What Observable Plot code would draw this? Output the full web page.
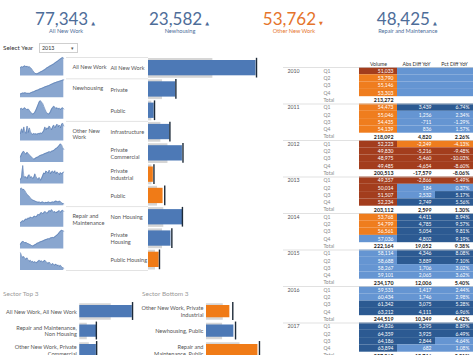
<!DOCTYPE html>
<html><head><meta charset="utf-8">
<script src="https://cdn.jsdelivr.net/npm/d3@7"></script>
<script src="https://cdn.jsdelivr.net/npm/@observablehq/plot@0.6"></script>
<style>
html,body{margin:0;padding:0;width:474px;height:355px;overflow:hidden;background:#fff;font-family:Lato,"Open Sans",sans-serif;}
.p{position:absolute;}
.clip{overflow:hidden;}
.p svg{overflow:visible;display:block;}
.ttl{position:absolute;font-size:6.5px;color:#9a9a9a;line-height:8px;white-space:nowrap;}
</style></head><body>
<div id="kpi" class="p" style="left:0;top:0;width:474px;height:40px"></div>
<div class="ttl" style="left:3px;top:43.5px;color:#333;font-size:6.3px">Select Year</div>
<div style="position:absolute;left:39px;top:43px;width:39px;height:10px;border:1px solid #cfcfcf;box-sizing:border-box;font-size:5.3px;line-height:8px;color:#333;padding-left:2px;background:#fff">2013<span style="position:absolute;right:3px;top:0;font-size:5px;color:#555">▾</span></div>
<div id="spark" class="p" style="left:0;top:55px;width:66px;height:217px"></div>
<div id="labels" class="p" style="left:66px;top:55px;width:82px;height:217px"></div>
<div id="bars" class="p" style="left:148px;top:55px;width:120px;height:217px"></div>
<div id="table" class="p clip" style="left:280px;top:55px;width:194px;height:300px"></div>
<div class="ttl" style="left:3px;top:289.5px">Sector Top 3</div>
<div class="ttl" style="left:142px;top:289.5px">Sector Bottom 3</div>
<div id="top3" class="p clip" style="left:0;top:286px;width:140px;height:69px"></div>
<div id="bot3" class="p clip" style="left:140px;top:286px;width:134px;height:69px"></div>
<script>
// ---------- DATA ----------
const kpiNames = ["All New Work", "Newhousing", "Other New Work", "Repair and Maintenance"];
const kpiValues = [77343, 23582, 53762, 48425];
const kpiTrend = ["up", "up", "down", "up"];

const groups = ["All New Work","Newhousing","Newhousing","Other New Work","Other New Work","Other New Work","Other New Work","Repair and Maintenance","Repair and Maintenance","Repair and Maintenance"];
const sectors = ["All New Work","Private","Public","Infrastructure","Private Commercial","Private Industrial","Public","Non Housing","Private Housing","Public Housing"];
const groupLabels = {"All New Work":"All New Work","Newhousing":"Newhousing","Other New Work":"Other New\nWork","Repair and Maintenance":"Repair and\nMaintenance"};
const sectorLabels = ["All New Work","Private","Public","Infrastructure","Private\nCommercial","Private\nIndustrial","Public","Non Housing","Private\nHousing","Public Housing"];
const comboLabels = ["All New Work, All New Work","Newhousing, Private","Newhousing, Public","Other New Work,\nInfrastructure","Other New Work, Private\nCommercial","Other New Work, Private\nIndustrial","Other New Work, Public","Repair and Maintenance,\nNon Housing","Repair and Maintenance,\nPrivate Housing","Repair and\nMaintenance, Public"];
const sectorValue = [77343, 19500, 4082, 15400, 24400, 3480, 10482, 24600, 16160, 7665];
const sectorPrior = [46300, 10100, 2400, 8900, 14000, 2500, 6500, 11000, 10100, 5000];
const sectorTarget = [77700, 19700, 4330, 15400, 24800, 3920, 11680, 24400, 16800, 7900];
const sectorTrend = ["up","up","up","up","up","down","down","up","up","down"];

const sparklines = [
  [45,50,48,52,55,50,53,48,50,45,40,30,22,15,12,12,15,18,22,25,28,32,35,40,45,48,52,55,58,62,65,70,75,78,82,88,92,96,100,95],
  [20,22,25,24,26,25,23,24,22,25,28,30,32,35,38,40,42,45,48,50,52,55,58,60,62,64,66,70,72,75,78,80,82,85,86,88,90,92,94,96],
  [55,60,52,58,62,55,50,56,48,40,32,28,30,38,50,65,80,95,100,92,85,70,55,42,32,28,30,40,55,62,70,65,58,62,55,60,52,58,62,55],
  [40,65,45,75,50,40,80,45,70,50,38,35,40,36,38,35,40,38,42,40,45,55,75,60,70,65,80,70,60,75,85,70,80,90,75,85,70,88,95,80],
  [30,45,55,60,50,45,55,48,40,35,30,22,18,20,25,28,30,35,38,40,42,45,48,50,52,55,58,55,60,62,65,70,75,78,85,92,100,95,80,70],
  [25,35,100,45,35,40,30,45,50,35,40,30,35,55,40,30,25,35,20,30,45,60,55,70,65,60,75,55,65,70,60,72,55,65,60,50,62,55,60,65],
  [90,95,85,88,80,70,60,55,50,40,35,30,28,25,22,20,18,20,16,18,20,17,15,18,16,20,18,16,18,20,18,22,25,22,20,24,22,15,12,10],
  [25,30,35,32,40,45,42,50,48,55,52,50,58,60,55,62,70,65,75,80,72,78,85,80,75,82,90,85,95,88,80,85,78,82,85,90,80,88,92,85],
  [25,35,40,38,32,35,30,28,25,22,18,15,18,22,25,30,32,35,38,40,42,45,48,50,52,55,53,58,60,62,60,65,70,75,80,88,95,100,98,95],
  [95,80,70,75,65,60,68,55,50,55,45,50,42,48,40,45,50,55,48,52,45,50,55,48,42,38,45,35,30,38,32,28,35,25,30,22,28,20,15,12]
];

const years = [2010, 2011, 2012, 2013, 2014, 2015, 2016, 2017];
const quarters = ["Q1", "Q2", "Q3", "Q4"];
const volume = [51033,53790,55146,53303, 54473,55046,54435,54139, 52223,49830,48975,49485, 49357,50014,51507,52234,
                53768,54799,56561,57036, 58114,58688,58267,59101, 59531,60434,61342,63212, 64826,64359,64186,63894];
const absDiff = [null,null,null,null, 3439,1256,-711,836, -2249,-5216,-5460,-4654, -2866,184,2532,2749,
                 4411,4785,5054,4802, 4346,3889,1706,2065, 1417,1746,3075,4111, 5295,3925,2844,682];
const pctDiff = [null,null,null,null, 6.74,2.34,-1.29,1.57, -4.13,-9.48,-10.03,-8.60, -5.49,0.37,5.17,5.56,
                 8.94,9.57,9.81,9.19, 8.08,7.10,3.02,3.62, 2.44,2.98,5.28,6.96, 8.89,6.49,4.64,1.08];
const totalVolume = [213272, 218092, 200513, 203112, 222164, 234170, 244519, 257265];
const totalAbs = [null, 4820, -17579, 2599, 19052, 12006, 10349, 12746];
const totalPct = [null, 2.26, -8.06, 1.30, 9.38, 5.40, 4.42, 5.21];
const tableCols = ["Volume", "Abs Diff YoY", "Pct Diff YoY"];
const colorBins = {"Volume": [52250, 56800, 61000], "Abs Diff YoY": [-2500, -1000, 2600], "Pct Diff YoY": [-5, -2, 5]};

// ---------- STYLE ----------
const FONT = "Lato, 'Open Sans', sans-serif";
const BLUE = "#4d79b6", ORANGE = "#f07b17", GRAY = "#d6d6d6", TICK = "#1d2a38";
const KPI_BLUE = "#4e6d99", KPI_ORANGE = "#e5742b";
const CELL = ["#a33d1d", "#ef7d1e", "#6595d2", "#2c5a92"];
const loc = d3.formatLocale({decimal: ".", thousands: ",", grouping: [3], currency: ["", ""], minus: "-"});
const fInt = loc.format(",");
const fPct = v => loc.format(".2f")(v) + "%";
const style = {fontFamily: FONT, background: "transparent", overflow: "visible"};

// ---------- KPI ----------
const kpi = kpiNames.map((name, i) => ({name, value: kpiValues[i], trend: kpiTrend[i]}));
const kcol = d => d.trend === "up" ? KPI_BLUE : KPI_ORANGE;
document.getElementById("kpi").append(Plot.plot({
  width: 474, height: 40, margin: 0, style,
  x: {type: "band", domain: kpiNames, range: [3, 470], round: false, axis: null},
  marks: [
    Plot.text(kpi, {x: "name", text: d => fInt(d.value), fill: kcol, fontSize: 17, frameAnchor: "top", lineAnchor: "bottom", dy: 24, dx: -4.5}),
    Plot.text(kpi, {x: "name", text: d => d.trend === "up" ? "▲" : "▼", fill: kcol, fontFamily: "DejaVu Sans", fontSize: 5, frameAnchor: "top", lineAnchor: "bottom", dy: 24, dx: 27}),
    Plot.text(kpi, {x: "name", text: "name", fill: kcol, fontSize: 5.6, frameAnchor: "top", lineAnchor: "bottom", dy: 32.5})
  ]
}));

// ---------- ROWS ----------
const rows = sectors.map((s, i) => ({
  key: groups[i] + ", " + s, group: groups[i], sector: s, label: sectorLabels[i], combo: comboLabels[i],
  value: sectorValue[i], prior: sectorPrior[i], target: sectorTarget[i], trend: sectorTrend[i]
}));
const rowKeys = rows.map(d => d.key);
const rowStep = 213 / rows.length;
const groupStarts = rows.filter((d, i) => i === 0 || rows[i - 1].group !== d.group);

// sparklines
const sparkData = rows.flatMap((r, ri) => sparklines[ri].map((v, i) => ({row: r.key, i, v})));
document.getElementById("spark").append(Plot.plot({
  width: 66, height: 217, marginTop: 2, marginBottom: 2, marginLeft: 20, marginRight: 2.7, style,
  fy: {domain: rowKeys, padding: 0.14, round: false, axis: null},
  x: {axis: null}, y: {axis: null, domain: [0, 100]},
  marks: [
    Plot.areaY(sparkData, {fy: "row", x: "i", y: "v", fill: "#89a6cf"}),
    Plot.lineY(sparkData, {fy: "row", x: "i", y: "v", stroke: "#5579ae", strokeWidth: 0.6})
  ]
}));

// labels
document.getElementById("labels").append(Plot.plot({
  width: 82, height: 217, marginTop: 2, marginBottom: 2, marginLeft: 0, marginRight: 0, style,
  x: {type: "band", domain: ["group", "sector"], padding: 0, round: false, axis: null},
  y: {type: "band", domain: rowKeys, padding: 0, round: false, axis: null},
  marks: [
    Plot.ruleY(groupStarts, {y: "key", dy: -rowStep / 2, stroke: "#dcdcdc", strokeWidth: 0.8}),
    Plot.ruleY(rows.slice(-1), {y: "key", dy: rowStep / 2, stroke: "#dcdcdc", strokeWidth: 0.8}),
    Plot.text(groupStarts, {x: () => "group", y: "key", text: d => groupLabels[d.group], textAnchor: "start", lineAnchor: "top", dx: -14.5, dy: -3.6, fontSize: 5.6, fill: "#555", lineHeight: 1.15}),
    Plot.text(rows, {x: () => "sector", y: "key", text: "label", textAnchor: "start", dx: -17.5, fontSize: 5.6, fill: "#555", lineHeight: 1.15})
  ]
}));

// bars
const barCol = d => d.trend === "up" ? BLUE : ORANGE;
function bulletMarks(data, gTop, gBot, bTop, bBot) {
  return [
    Plot.barX(data, {y: "key", x: "prior", fill: GRAY, insetTop: gTop, insetBottom: gBot}),
    Plot.barX(data, {y: "key", x: "value", fill: barCol, insetTop: bTop, insetBottom: bBot}),
    Plot.tickX(data, {y: "key", x: "target", stroke: TICK, strokeWidth: 1.4, insetTop: 0.8, insetBottom: 0.8})
  ];
}
document.getElementById("bars").append(Plot.plot({
  width: 120, height: 217, marginTop: 2, marginBottom: 2, marginLeft: 0, marginRight: 6, style,
  x: {domain: [0, 82000], axis: null},
  y: {type: "band", domain: rowKeys, padding: 0, round: false, axis: null},
  marks: bulletMarks(rows, 1, 0.5, 3, 3)
}));

// top 3 / bottom 3
const top3 = d3.sort(rows, d => -d.value).slice(0, 3);
const bot3 = d3.sort(rows, d => d.value).slice(0, 3);
function sectorPanel(data, mLeft, width, mRight, xmax) {
  return Plot.plot({
    width, height: 74, marginTop: 15.25, marginBottom: 0.25, marginLeft: mLeft, marginRight: mRight, style,
    x: {domain: [0, xmax], axis: null},
    y: {type: "band", domain: data.map(d => d.key), padding: 0, round: false, axis: null},
    marks: [
      ...bulletMarks(data, 2, 1, 3.75, 3.5),
      Plot.text(data, {y: "key", text: "combo", frameAnchor: "left", textAnchor: "end", dx: -3, fontSize: 5.6, fill: "#555", lineHeight: 1.15})
    ]
  });
}
document.getElementById("top3").append(sectorPanel(top3, 79.3, 140, 3, 85000));
document.getElementById("bot3").append(sectorPanel(bot3, 66, 134, 11, 8500));

// ---------- TABLE ----------
const trows = [];
years.forEach((y, yi) => {
  quarters.forEach((q, qi) => trows.push({year: y, q, key: y + " " + q, total: false,
    "Volume": volume[yi * 4 + qi], "Abs Diff YoY": absDiff[yi * 4 + qi], "Pct Diff YoY": pctDiff[yi * 4 + qi]}));
  trows.push({year: y, q: "Total", key: y + " Total", total: true,
    "Volume": totalVolume[yi], "Abs Diff YoY": totalAbs[yi], "Pct Diff YoY": totalPct[yi]});
});
const cells = trows.flatMap(r => tableCols.map(c => ({row: r.key, col: c, value: r[c], total: r.total,
  text: r[c] == null ? "" : (c === "Pct Diff YoY" ? fPct(r[c]) : fInt(r[c]))})));
const level = d => d.value == null ? 2 : d3.bisect(colorBins[d.col], d.value);
const RH = 7.3;
document.getElementById("table").append(Plot.plot({
  width: 194, height: 12 + RH * trows.length, marginTop: 12, marginBottom: 0, marginLeft: 3, marginRight: 1, style,
  x: {type: "band", domain: ["year", "quarter", ...tableCols], padding: 0, round: false, axis: null},
  y: {type: "band", domain: trows.map(d => d.key), padding: 0, round: false, axis: null},
  color: {type: "ordinal", domain: [0, 1, 2, 3], range: CELL},
  marks: [
    Plot.cell(cells.filter(d => !d.total), {x: "col", y: "row", fill: level, inset: 0}),
    Plot.ruleY(years, {y: d => d + " Q1", dy: -RH / 2, stroke: "#d4d4d4", strokeWidth: 0.7}),
    Plot.text(tableCols, {x: d => d, text: d => d, frameAnchor: "top", dy: -5.3, fontSize: 5.2, fill: "#333"}),
    Plot.text(years, {x: () => "year", y: d => d + " Q1", text: d => String(d), textAnchor: "start", dx: -15, fontSize: 5.2, fill: "#555"}),
    Plot.text(trows, {x: () => "quarter", y: "key", text: "q", textAnchor: "start", dx: -17, fontSize: 5, fill: "#888"}),
    Plot.text(cells.filter(d => !d.total), {x: "col", y: "row", text: "text", textAnchor: "end", dx: 15, fontSize: 5, fill: "white"}),
    Plot.text(cells.filter(d => d.total), {x: "col", y: "row", text: "text", textAnchor: "end", dx: 15, fontSize: 5.3, fontWeight: "bold", fill: "#222"})
  ]
}));
</script>
</body></html>
